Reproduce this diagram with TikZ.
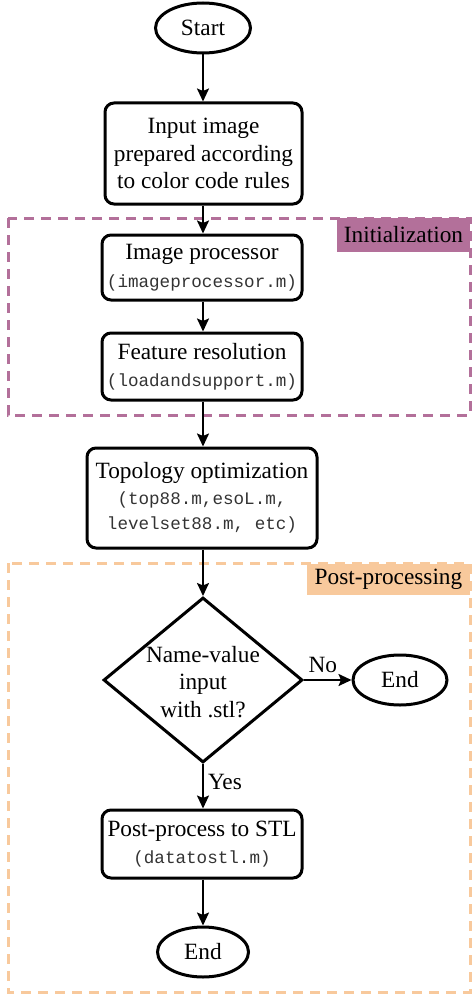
\documentclass[tikz,border=0pt]{standalone}
\usepackage{fontspec}
\setmainfont{Liberation Serif}
\newfontfamily\monof{Liberation Mono}
\usetikzlibrary{shapes.geometric,arrows.meta}
\definecolor{initc}{HTML}{B3709A}
\definecolor{postc}{HTML}{F8C99C}
\definecolor{monoc}{HTML}{333333}
\tikzset{
  mainfont/.style={font=\fontsize{23.3}{27.5}\selectfont},
  procbox/.style={draw, line width=3pt, rounded corners=9pt, align=center, inner sep=0pt, mainfont},
  term/.style={draw, ellipse, line width=3pt, inner sep=0pt, mainfont},
  decision/.style={draw, diamond, line width=3pt, inner sep=0pt, shape aspect=1.2},
  dectext/.style={align=center, inner sep=0pt, mainfont},
  flow/.style={line width=2pt, -{Stealth[length=13pt,width=12pt,inset=2.5pt]}},
  groupbox/.style={line width=3pt, dash pattern=on 10pt off 7pt},
  grouplabel/.style={inner sep=0pt, mainfont},
  edgelabel/.style={inner sep=0pt, mainfont},
}
\newcommand{\mtxt}[1]{{\fontsize{17.6}{25}\monof\color{monoc}#1}}
\begin{document}
\begin{tikzpicture}[x=1pt,y=1pt]
\useasboundingbox (0,0) rectangle (474,-1006);
% group boxes
\node[grouplabel, fill=initc, minimum width=133pt, minimum height=34pt] (initlab) at (403.5,-235) {Initialization};
\node[grouplabel, fill=postc, minimum width=163pt, minimum height=31pt] (postlab) at (388.5,-579) {Post-processing};
\draw[groupbox, draw=initc] (8,-218) rectangle (470,-415);
\draw[groupbox, draw=postc] (8,-563) rectangle (470,-992);
% nodes
\node[term, minimum width=95pt, minimum height=50pt] (start) at (203,-28) {Start};
\node[procbox, minimum width=197pt, minimum height=101pt] (input) at (203.5,-153.5)
  {Input image\\prepared according\\to color code rules};
\node[procbox, minimum width=200pt, minimum height=65pt] (imgproc) at (202,-267.5)
  {Image processor\\\mtxt{(imageprocessor.m)}};
\node[procbox, minimum width=200pt, minimum height=67pt] (feat) at (202,-366.5)
  {Feature resolution\\\mtxt{(loadandsupport.m)}};
\node[procbox, minimum width=230pt, minimum height=100pt] (topo) at (202,-498)
  {Topology optimization\\[-2pt]\mtxt{(top88.m,esoL.m,}\\[-2pt]\mtxt{levelset88.m, etc)}};
\node[decision, minimum width=199pt, minimum height=165pt] (dec) at (203,-680) {};
\node[dectext] (dectxt) at ([yshift=-2pt]dec.center) {Name-value\\input\\with .stl?};
\node[term, minimum width=94pt, minimum height=50pt] (endr) at (400,-680) {End};
\node[procbox, minimum width=200pt, minimum height=68pt] (post) at (202,-844)
  {Post-process to STL\\\mtxt{(datatostl.m)}};
\node[term, minimum width=91pt, minimum height=50pt] (endb) at (203,-952) {End};
% connectors
\draw[flow] (start) -- (start |- input.north);
\draw[flow] (input.south -| start) -- (start |- imgproc.north);
\draw[flow] (imgproc.south -| start) -- (start |- feat.north);
\draw[flow] (feat.south -| start) -- (start |- topo.north);
\draw[flow] (topo.south -| start) -- (dec.north);
\draw[flow] (dec.east) -- node[edgelabel, above=6pt, xshift=-5pt] (nolab) {No} (endr.west);
\draw[flow] (dec.south) -- node[edgelabel, right=4pt, pos=0.4] (yeslab) {Yes} (start |- post.north);
\draw[flow] (post.south -| start) -- (endb.north);
\end{tikzpicture}
\end{document}
